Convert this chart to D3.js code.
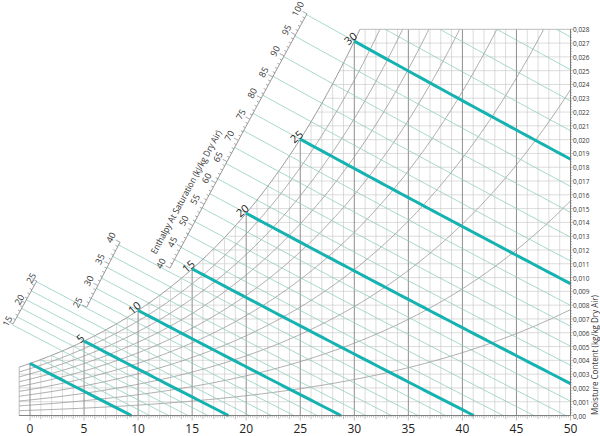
<!DOCTYPE html>
<html>
<head>
<meta charset="utf-8">
<script src="https://cdn.jsdelivr.net/npm/d3@7/dist/d3.min.js"></script>
<style>
  html, body { margin: 0; padding: 0; background: #fff; }
  svg { display: block; font-family: "Open Sans", "DejaVu Sans", sans-serif; }
</style>
</head>
<body>
<div id="chart"></div>
<script>
const WIDTH = 600;
const HEIGHT = 436;
const P_ATM = 101.325;

// chart values
const dryBulbLabels = [0, 5, 10, 15, 20, 25, 30, 35, 40, 45, 50];
const moistureTicks = [0, 0.001, 0.002, 0.003, 0.004, 0.005, 0.006, 0.007, 0.008, 0.009,
  0.010, 0.011, 0.012, 0.013, 0.014, 0.015, 0.016, 0.017, 0.018, 0.019,
  0.020, 0.021, 0.022, 0.023, 0.024, 0.025, 0.026, 0.027, 0.028];
const rhLevels = [10, 20, 30, 40, 50, 60, 70, 80, 90];
const wetBulbTemps = [0, 1, 2, 3, 4, 5, 6, 7, 8, 9, 10, 11, 12, 13, 14, 15, 16, 17,
  18, 19, 20, 21, 22, 23, 24, 25, 26, 27, 28, 29, 30, 31, 32, 33, 34];
const thickWetBulbs = [0, 5, 10, 15, 20, 25, 30];
const thickLabels = ["", "5", "10", "15", "20", "25", "30"];
// enthalpy-at-saturation scale: kJ/kg range and the dry bulb where it sits
const scaleFrom = [15, 25, 40];
const scaleTo = [25, 40, 100];
const scaleTempFrom = [-1.57, 5.25, 12.95];
const scaleTempTo = [0.62, 8.33, 25.62];

const T_MIN = -1, T_MAX = 50, W_MAX = 0.028;

const x = d3.scaleLinear().domain([0, 50]).range([30, 570.5]);
const y = d3.scaleLinear().domain([0, 0.028]).range([415.5, 29.3]);

// psychrometrics
const pws = (t) => 0.61094 * Math.exp((17.625 * t) / (t + 243.04));
const wSat = (t) => (0.622 * pws(t)) / (P_ATM - pws(t));
const wRH = (t, phi) => (0.622 * phi * pws(t)) / (P_ATM - phi * pws(t));
const wWetBulb = (t, tw) =>
  ((2501 - 2.326 * tw) * wSat(tw) - 1.006 * (t - tw)) / (2501 + 1.86 * t - 4.186 * tw);
const hSat = (tw) => 1.006 * tw + wSat(tw) * (2501 + 1.86 * tw);
const wEnth = (t, h) => (h - 1.006 * t) / (2501 + 1.86 * t);

function tSatTop() {
  let lo = 20, hi = 40;
  for (let i = 0; i < 50; i++) {
    const mid = (lo + hi) / 2;
    if (wSat(mid) > W_MAX) hi = mid; else lo = mid;
  }
  return lo;
}
const T_TOP = tSatTop();

const svg = d3.select("#chart").append("svg")
  .attr("width", WIDTH).attr("height", HEIGHT)
  .attr("viewBox", `0 0 ${WIDTH} ${HEIGHT}`);

// region below saturation
const satPts = d3.range(T_MIN, T_TOP, 0.1).map((t) => [t, wSat(t)]);
satPts.push([T_TOP, W_MAX]);
const regionPts = [[T_MIN, 0]].concat(satPts, [[T_MAX, W_MAX], [T_MAX, 0]]);
const line = d3.line().x((d) => x(d[0])).y((d) => y(d[1]));

svg.append("clipPath").attr("id", "region")
  .append("path").attr("d", line(regionPts) + "Z");

const grid = svg.append("g").attr("clip-path", "url(#region)");

grid.selectAll("line.h").data(moistureTicks).join("line")
  .attr("class", "h")
  .attr("x1", x(T_MIN)).attr("x2", x(T_MAX))
  .attr("y1", (d) => y(d)).attr("y2", (d) => y(d))
  .attr("stroke", "#c4c4c4").attr("stroke-width", 0.6);

grid.selectAll("line.v").data(d3.range(0, 51)).join("line")
  .attr("class", "v")
  .attr("x1", (d) => x(d)).attr("x2", (d) => x(d))
  .attr("y1", y(0)).attr("y2", y(W_MAX))
  .attr("stroke", (d) => (d % 5 === 0 ? "#8e8e8e" : "#c4c4c4"))
  .attr("stroke-width", (d) => (d % 5 === 0 ? 1 : 0.6));

grid.selectAll("path.rh").data(rhLevels).join("path")
  .attr("class", "rh")
  .attr("d", (rh) => line(d3.range(T_MIN, T_MAX + 0.01, 0.25).map((t) => [t, wRH(t, rh / 100)])))
  .attr("fill", "none").attr("stroke", "#999").attr("stroke-width", 0.8);

// outline: saturation curve and left edge
svg.append("path").attr("d", line(satPts))
  .attr("fill", "none").attr("stroke", "#8a8a8a").attr("stroke-width", 0.9);
svg.append("line")
  .attr("x1", x(T_MIN)).attr("x2", x(T_MIN))
  .attr("y1", y(0)).attr("y2", y(wSat(T_MIN)))
  .attr("stroke", "#9c9c9c").attr("stroke-width", 0.7);
svg.append("line")
  .attr("x1", x(T_TOP)).attr("x2", x(T_MAX))
  .attr("y1", y(W_MAX)).attr("y2", y(W_MAX))
  .attr("stroke", "#b0b0b0").attr("stroke-width", 0.7);

// wet bulb lines
function segmentFor(h) {
  if (h >= scaleFrom[0] - 0.5 && h < scaleTo[0]) return 0;
  if (h >= scaleFrom[1] && h < scaleTo[1]) return 1;
  if (h >= scaleFrom[2] && h <= scaleTo[2] + 0.5) return 2;
  return -1;
}
function scaleTemp(i, h) {
  return scaleTempFrom[i] + ((h - scaleFrom[i]) / (scaleTo[i] - scaleFrom[i])) * (scaleTempTo[i] - scaleTempFrom[i]);
}
function wbEnd(tw) {
  return Math.min(T_MAX, tw + ((2501 - 2.326 * tw) * wSat(tw)) / 1.006);
}
function wbStart(tw) {
  if (wSat(tw) > W_MAX) {
    const a = (2501 - 2.326 * tw) * wSat(tw) + 1.006 * tw - W_MAX * (2501 - 4.186 * tw);
    return a / (1.006 + W_MAX * 1.86);
  }
  const s = segmentFor(hSat(tw));
  return s < 0 ? tw : scaleTemp(s, hSat(tw));
}
function wbPath(tw, t0) {
  const t1 = wbEnd(tw);
  const pts = d3.range(t0, t1, 0.5).map((t) => [t, wWetBulb(t, tw)]);
  pts.push([t1, wWetBulb(t1, tw)]);
  return line(pts);
}

svg.append("g").selectAll("path").data(wetBulbTemps).join("path")
  .attr("d", (tw) => wbPath(tw, wbStart(tw)))
  .attr("fill", "none").attr("stroke", "#8acbbd").attr("stroke-width", 0.75);

svg.append("g").selectAll("path").data(thickWetBulbs).join("path")
  .attr("d", (tw) => wbPath(tw, tw))
  .attr("fill", "none").attr("stroke", "#14b2b0").attr("stroke-width", 3);

svg.append("g").selectAll("text").data(thickWetBulbs).join("text")
  .attr("transform", (tw) => `translate(${x(tw) - 4},${y(wSat(tw)) - 3}) rotate(-40)`)
  .attr("text-anchor", "middle").attr("dominant-baseline", "central")
  .attr("font-size", 11).attr("fill", "#222")
  .text((tw, i) => thickLabels[i]);

// enthalpy at saturation scale
const scaleG = svg.append("g");
const sp = (i, h) => {
  const t = scaleTemp(i, h);
  return [x(t), y(wEnth(t, h))];
};
const outward = (i, h) => {
  const t = scaleTemp(i, h);
  const a = [x(t), y(wEnth(t, h))];
  const b = [x(t - 1), y(wEnth(t - 1, h))];
  const len = Math.hypot(b[0] - a[0], b[1] - a[1]);
  return [(b[0] - a[0]) / len, (b[1] - a[1]) / len];
};
scaleFrom.forEach((h0, i) => {
  const h1 = scaleTo[i];
  const hs = d3.range(h0, h1 + 0.01, 1);
  const p0 = sp(i, h0), p1 = sp(i, h1);
  const ang = (Math.atan2(p1[1] - p0[1], p1[0] - p0[0]) * 180) / Math.PI;
  scaleG.append("path")
    .attr("d", d3.line()(hs.map((h) => sp(i, h))))
    .attr("fill", "none").attr("stroke", "#6e6e6e").attr("stroke-width", 0.7);
  scaleG.append("g").selectAll("line").data(hs).join("line")
    .attr("x1", (h) => sp(i, h)[0]).attr("y1", (h) => sp(i, h)[1])
    .attr("x2", (h) => sp(i, h)[0] + outward(i, h)[0] * (h % 5 === 0 ? 5 : 2.5))
    .attr("y2", (h) => sp(i, h)[1] + outward(i, h)[1] * (h % 5 === 0 ? 5 : 2.5))
    .attr("stroke", "#6e6e6e").attr("stroke-width", 0.6);
  scaleG.append("g").selectAll("text").data(hs.filter((h) => h % 5 === 0)).join("text")
    .attr("transform", (h) => {
      const p = sp(i, h), o = outward(i, h);
      const off = i === 0 ? 6.5 : 10.5;
      return `translate(${p[0] + o[0] * off},${p[1] + o[1] * off}) rotate(${ang})`;
    })
    .attr("text-anchor", "middle").attr("dominant-baseline", "central")
    .attr("font-size", 9).attr("fill", "#333")
    .text((h) => h);
  if (i === 2) {
    const hT = 55.5, p = sp(i, hT), o = outward(i, hT);
    scaleG.append("text")
      .attr("transform", `translate(${p[0] + o[0] * 22},${p[1] + o[1] * 22}) rotate(${ang})`)
      .attr("text-anchor", "middle").attr("dominant-baseline", "central")
      .attr("font-size", 9).attr("fill", "#333")
      .attr("textLength", 139).attr("lengthAdjust", "spacingAndGlyphs")
      .text("Enthalpy At Saturation (kJ/kg Dry Air)");
  }
});

// bottom axis
const bottom = svg.append("g");
bottom.append("line")
  .attr("x1", x(T_MIN)).attr("x2", x(T_MAX)).attr("y1", y(0)).attr("y2", y(0))
  .attr("stroke", "#666").attr("stroke-width", 0.8);
bottom.selectAll("line.t").data(d3.range(0, 250.5, 1)).join("line")
  .attr("class", "t")
  .attr("x1", (d) => x(d / 5)).attr("x2", (d) => x(d / 5))
  .attr("y1", y(0)).attr("y2", (d) => y(0) + (d % 25 === 0 ? 5 : d % 5 === 0 ? 3.5 : 2))
  .attr("stroke", "#777").attr("stroke-width", 0.5);
bottom.selectAll("text").data(dryBulbLabels).join("text")
  .attr("x", (d) => x(d)).attr("y", 432.5)
  .attr("text-anchor", "middle").attr("font-size", 12).attr("fill", "#222")
  .text((d) => d);

// right axis
const right = svg.append("g");
right.append("line")
  .attr("x1", x(T_MAX)).attr("x2", x(T_MAX)).attr("y1", y(0)).attr("y2", y(W_MAX))
  .attr("stroke", "#666").attr("stroke-width", 0.8);
right.selectAll("line.t").data(d3.range(0, 140.5, 1)).join("line")
  .attr("class", "t")
  .attr("x1", x(T_MAX)).attr("x2", (d) => x(T_MAX) + (d % 5 === 0 ? 3 : 1.6))
  .attr("y1", (d) => y(d / 5000)).attr("y2", (d) => y(d / 5000))
  .attr("stroke", "#777").attr("stroke-width", 0.5);
right.selectAll("text").data(moistureTicks).join("text")
  .attr("x", x(T_MAX) + 2.5).attr("y", (d) => y(d))
  .attr("dominant-baseline", "central").attr("font-size", 7.5).attr("fill", "#333")
  .attr("textLength", (d) => (d === 0 ? 13 : 16.5)).attr("lengthAdjust", "spacingAndGlyphs")
  .text((d) => (d === 0 ? "0,00" : "0," + String(Math.round(d * 1000)).padStart(3, "0")));
right.append("text")
  .attr("transform", `translate(594.5,355) rotate(-90)`)
  .attr("text-anchor", "middle").attr("dominant-baseline", "central")
  .attr("font-size", 8.5).attr("fill", "#333")
  .attr("textLength", 120).attr("lengthAdjust", "spacingAndGlyphs")
  .text("Moisture Content (kg/kg Dry Air)");
</script>
</body>
</html>
